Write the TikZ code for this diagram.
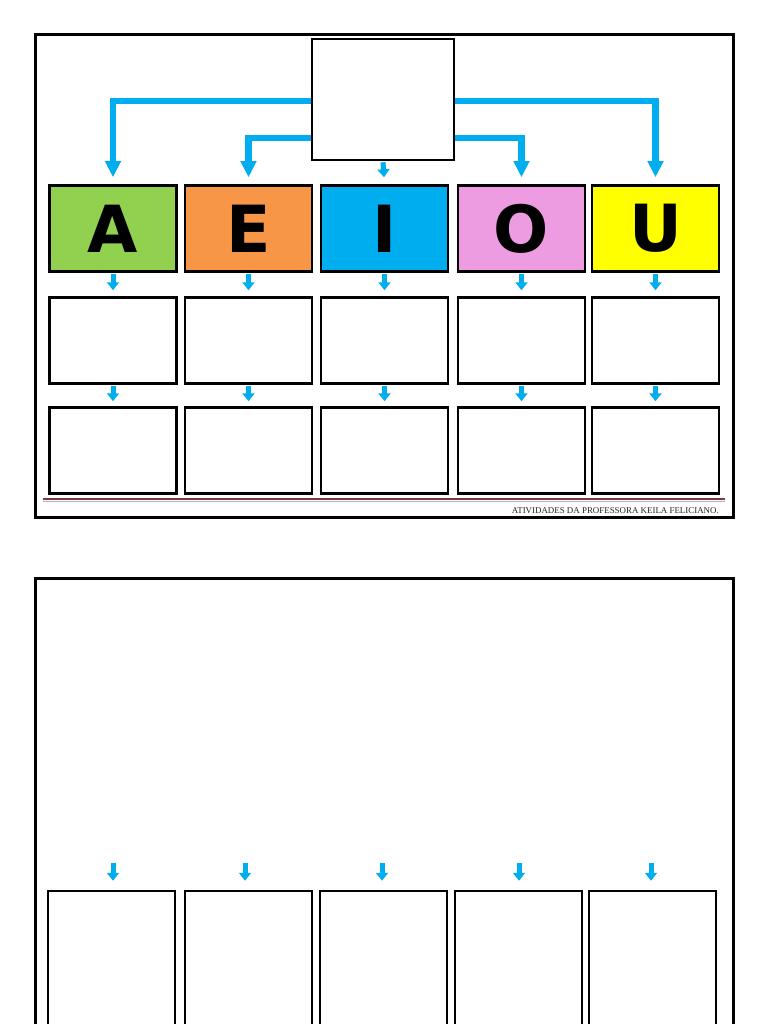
\documentclass[tikz,border=0pt]{standalone}
\usepackage{fontspec}
\setmainfont{Liberation Serif}
\newfontfamily\vowelfont{DejaVu Sans}
\usetikzlibrary{arrows.meta}

\definecolor{vblue}{HTML}{00AEEF}
\definecolor{vgreen}{HTML}{92D050}
\definecolor{vorange}{HTML}{F79646}
\definecolor{vpink}{HTML}{EE9CE2}
\definecolor{vyellow}{HTML}{FFFF00}
\definecolor{vline}{HTML}{7B3B3B}

\begin{document}
\begin{tikzpicture}[x=1pt,y=-1pt,
	cell/.style={draw,line width=2.5pt,minimum width=127pt,minimum height=86pt,inner sep=0pt},
	flow/.style={vblue,line width=6.5pt,shorten >=7pt,-{Triangle[width=15pt,length=16pt]}},
	tick/.style={vblue,line width=5pt,-{Triangle[width=12pt,length=8pt]}}]
	\useasboundingbox (0,0) rectangle (768,1024);
	\clip (0,0) rectangle (768,1024);
	\fill[white] (0,0) rectangle (768,1024);

	% upper sheet
	\draw[line width=3pt] (35,35) rectangle (733,517);
	\foreach \n/\x/\c/\v in {a/113/vgreen/A, e/248.5/vorange/E, i/384.5/vblue/I, o/521.5/vpink/O, u/655.5/vyellow/U} {
		\node [cell,fill=\c,font=\vowelfont\bfseries\fontsize{65}{65}\selectfont] (\n) at (\x,228.5) {\raisebox{-4pt}{\v}};
		\node [cell,fill=white] (\n2) at (\x,340.5) {};
		\node [cell,fill=white] (\n3) at (\x,450.5) {};
		\draw [tick,shorten >=6pt,shorten <=1pt] (\n.south) -- (\n2.north);
		\draw [tick,shorten >=5pt,shorten <=1pt] (\n2.south) -- (\n3.north);
	}
	\coordinate (outer) at (0,101);
	\coordinate (inner) at (0,138);
	\coordinate (hubc) at (383,99.5);
	\draw [flow] (hubc |- outer) -| (a.north);
	\draw [flow] (hubc |- inner) -| (e.north);
	\draw [flow] (hubc |- inner) -| (o.north);
	\draw [flow] (hubc |- outer) -| (u.north);
	\node [cell,fill=white,minimum width=142pt,minimum height=121pt] (hub) at (hubc) {};
	\draw [tick,shorten >=7pt,shorten <=1pt] (hub.south) -- (i.north);
	\draw [gray!60,line width=1pt] (43,501) -- (725,501);
	\draw [vline,line width=2pt] (43,499) -- (725,499);
	\node [anchor=base east,inner sep=0pt,text=black!85,font=\fontsize{8.9}{8.9}\selectfont] (credit) at (719,513) {ATIVIDADES DA PROFESSORA KEILA FELICIANO.};

	% lower sheet
	\draw[line width=3pt] (35,578) rectangle (733,1100);
	\foreach \i/\x/\t in {1/111.5/113, 2/248.5/245, 3/383.5/382, 4/518.5/519, 5/652.5/651} {
		\node [cell,fill=white,minimum height=150pt] (b\i) at (\x,966) {};
		\coordinate (t\i) at (\t,863);
		\draw [tick,shorten >=9pt] (t\i) -- (t\i |- b\i.north);
	}
\end{tikzpicture}
\end{document}
